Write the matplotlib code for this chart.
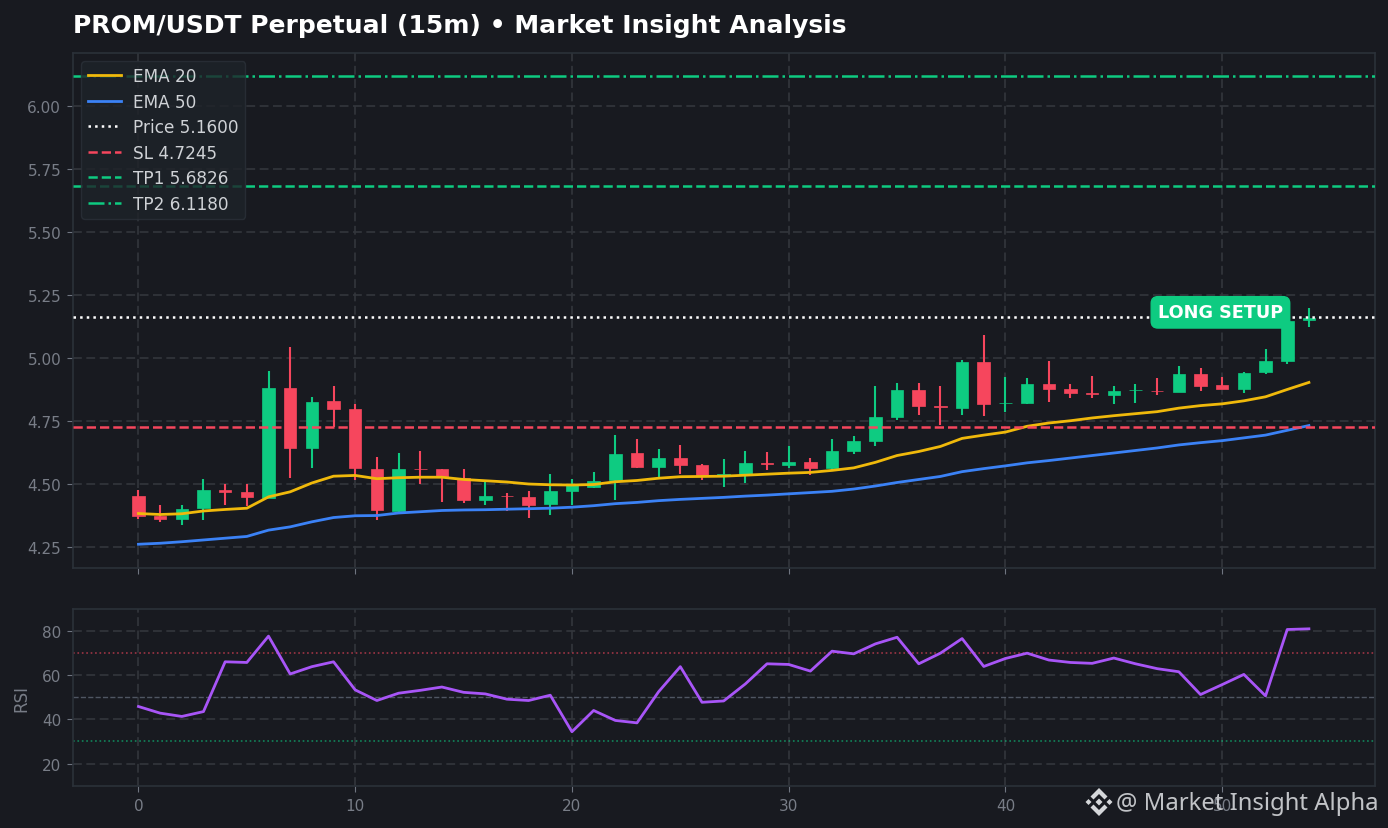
import matplotlib
matplotlib.use('Agg')
import matplotlib.pyplot as plt
from matplotlib.patches import Polygon

# candle data
opens = [4.452, 4.374, 4.361, 4.405, 4.476, 4.468, 4.444, 4.881, 4.643, 4.829, 4.798,
         4.560, 4.393, 4.560, 4.560, 4.524, 4.437, 4.452, 4.448, 4.421, 4.472, 4.488,
         4.516, 4.623, 4.567, 4.603, 4.575, 4.536, 4.536, 4.583, 4.575, 4.587, 4.563,
         4.631, 4.671, 4.766, 4.873, 4.810, 4.802, 4.984, 4.819, 4.821, 4.897, 4.877,
         4.861, 4.853, 4.870, 4.869, 4.865, 4.937, 4.893, 4.877, 4.944, 4.988, 5.151]
closes = [4.374, 4.361, 4.401, 4.476, 4.468, 4.448, 4.881, 4.643, 4.825, 4.798, 4.563,
          4.397, 4.560, 4.557, 4.526, 4.437, 4.452, 4.450, 4.417, 4.472, 4.500, 4.512,
          4.619, 4.567, 4.603, 4.575, 4.536, 4.540, 4.583, 4.579, 4.587, 4.563, 4.631,
          4.671, 4.766, 4.873, 4.810, 4.804, 4.984, 4.817, 4.821, 4.897, 4.877, 4.861,
          4.858, 4.869, 4.873, 4.866, 4.937, 4.889, 4.877, 4.940, 4.988, 5.147, 5.158]
highs = [4.476, 4.417, 4.417, 4.520, 4.500, 4.500, 4.948, 5.044, 4.845, 4.889, 4.817,
         4.607, 4.623, 4.631, 4.560, 4.560, 4.508, 4.464, 4.472, 4.540, 4.520, 4.548,
         4.694, 4.679, 4.639, 4.655, 4.579, 4.599, 4.631, 4.627, 4.651, 4.603, 4.679,
         4.690, 4.889, 4.901, 4.901, 4.889, 4.992, 5.091, 4.925, 4.921, 4.988, 4.897,
         4.929, 4.889, 4.897, 4.921, 4.968, 4.960, 4.925, 4.944, 5.036, 5.147, 5.198]
lows = [4.361, 4.349, 4.337, 4.357, 4.417, 4.413, 4.444, 4.524, 4.563, 4.725, 4.516,
        4.357, 4.385, 4.500, 4.429, 4.425, 4.417, 4.393, 4.365, 4.377, 4.417, 4.484,
        4.437, 4.563, 4.528, 4.540, 4.516, 4.488, 4.504, 4.556, 4.563, 4.536, 4.556,
        4.619, 4.651, 4.754, 4.774, 4.734, 4.774, 4.770, 4.786, 4.817, 4.825, 4.841,
        4.841, 4.817, 4.821, 4.853, 4.865, 4.869, 4.877, 4.861, 4.937, 4.976, 5.123]

ema20 = [4.382, 4.378, 4.381, 4.392, 4.398, 4.403, 4.448, 4.468, 4.503, 4.530, 4.533,
         4.520, 4.524, 4.526, 4.526, 4.517, 4.512, 4.507, 4.499, 4.496, 4.495, 4.497,
         4.508, 4.513, 4.522, 4.528, 4.529, 4.530, 4.534, 4.538, 4.542, 4.545, 4.553,
         4.563, 4.585, 4.612, 4.628, 4.648, 4.680, 4.693, 4.705, 4.728, 4.741, 4.750,
         4.761, 4.770, 4.778, 4.786, 4.800, 4.810, 4.817, 4.829, 4.845, 4.874, 4.902]
ema50 = [4.260, 4.264, 4.270, 4.277, 4.284, 4.291, 4.316, 4.329, 4.349, 4.366, 4.373,
         4.374, 4.384, 4.389, 4.394, 4.396, 4.397, 4.399, 4.401, 4.403, 4.407, 4.413,
         4.421, 4.426, 4.433, 4.438, 4.442, 4.446, 4.451, 4.455, 4.460, 4.465, 4.470,
         4.479, 4.491, 4.505, 4.517, 4.529, 4.548, 4.560, 4.571, 4.583, 4.592, 4.602,
         4.612, 4.622, 4.632, 4.642, 4.654, 4.663, 4.671, 4.682, 4.693, 4.712, 4.731]
rsi = [45.8, 42.8, 41.3, 43.5, 66.0, 65.7, 77.6, 60.5, 63.8, 66.0, 53.3, 48.5, 51.8,
       53.1, 54.6, 52.2, 51.5, 49.1, 48.5, 50.9, 34.4, 44.0, 39.5, 38.4, 52.5, 63.8,
       47.7, 48.3, 56.0, 65.1, 64.8, 61.8, 70.8, 69.6, 74.1, 77.1, 65.1, 69.9, 76.5,
       63.9, 67.5, 69.9, 66.8, 65.7, 65.3, 67.7, 65.1, 62.9, 61.5, 51.2, 55.7, 60.3,
       50.6, 80.6, 80.9]

price = 5.16
sl = 4.7245
tp1 = 5.6826
tp2 = 6.118
price_ticks = [4.25, 4.50, 4.75, 5.00, 5.25, 5.50, 5.75, 6.00]
rsi_ticks = [20, 40, 60, 80]
x_ticks = [0, 10, 20, 30, 40, 50]

BG = '#181a20'
GREEN = '#0ecb81'
RED = '#f6465d'
GRID = '#33363c'
SPINE = '#2b3139'
TICK = '#787d87'

W, H = 1388, 829
fig = plt.figure(figsize=(W / 100, H / 100), dpi=100, facecolor=BG)
ax = fig.add_axes([73 / W, 1 - 568.7 / H, 1302 / W, 515 / H], facecolor=BG)
ax2 = fig.add_axes([73 / W, 1 - 786.7 / H, 1302 / W, 177 / H], facecolor=BG, sharex=ax)

# candles, the thin edge keeps the doji bodies visible
xs = list(range(len(opens)))
for i in xs:
    col = GREEN if closes[i] >= opens[i] else RED
    ax.vlines(i, lows[i], highs[i], color=col, lw=1.5, zorder=2)
    ax.bar(i, abs(closes[i] - opens[i]), bottom=min(opens[i], closes[i]), width=0.58,
           color=col, edgecolor=col, linewidth=0.5, zorder=3)

ax.plot(xs, ema20, color='#f0b90b', lw=2, label='EMA 20', zorder=4)
ax.plot(xs, ema50, color='#3b82f6', lw=2, label='EMA 50', zorder=4)
ax.axhline(price, color='white', ls=':', lw=1.8, label=f'Price {price:.4f}', zorder=4)
ax.axhline(sl, color=RED, ls='--', lw=1.8, label=f'SL {sl:.4f}', zorder=4)
ax.axhline(tp1, color=GREEN, ls='--', lw=1.8, label=f'TP1 {tp1:.4f}', zorder=4)
ax.axhline(tp2, color=GREEN, ls='-.', lw=1.8, label=f'TP2 {tp2:.4f}', zorder=4)

ax.text(49.92, 5.18, 'LONG SETUP', color='white', fontsize=12.7, fontweight='bold',
        ha='center', va='center', zorder=6,
        bbox=dict(boxstyle='round,pad=0.38', facecolor=GREEN, edgecolor=GREEN))

ax.set_xlim(-3.02, 57.05)
ax.set_ylim(4.167, 6.21)
ax.set_yticks(price_ticks)
ax.set_yticklabels([f'{t:.2f}' for t in price_ticks])
ax.set_xticks(x_ticks)
ax.tick_params(labelbottom=False)
ax.set_title('PROM/USDT Perpetual (15m) • Market Insight Analysis', color='white',
             fontsize=18.03, fontweight='bold', loc='left', pad=15)

leg = ax.legend(loc='upper left', fontsize=12.2, facecolor='#1e2329', edgecolor='#2b3139',
                framealpha=0.8, labelcolor='#cfd2d6', labelspacing=0.44, borderpad=0.36,
                handletextpad=0.7)
leg.set_zorder(10)

# rsi panel
ax2.plot(xs, rsi, color='#a855f7', lw=2, zorder=4)
ax2.axhline(70, color=RED, ls=':', lw=1.2, alpha=0.6)
ax2.axhline(50, color='#5e6673', ls='--', lw=1, alpha=0.8)
ax2.axhline(30, color=GREEN, ls=':', lw=1.2, alpha=0.6)
ax2.set_ylim(10, 90)
ax2.set_yticks(rsi_ticks)
ax2.set_xticks(x_ticks)
ax2.set_ylabel('RSI', color=TICK, fontsize=12, labelpad=8.5)

for a in (ax, ax2):
    a.grid(True, color=GRID, ls=(0, (5.3, 2.7)), lw=1.2)
    a.set_axisbelow(True)
    a.tick_params(colors=TICK, labelsize=11, length=4, pad=4.5, color='#6f7580')
    for s in a.spines.values():
        s.set_color(SPINE)
        s.set_linewidth(1.2)

# watermark, logo drawn in pixels from the top left corner of the figure
logo = [
    [(1099, 799.5), (1102.5, 803), (1099, 806.5), (1095.5, 803)],
    [(1088.5, 800), (1091.5, 803), (1088.5, 806), (1085.5, 803)],
    [(1109.5, 800), (1112.5, 803), (1109.5, 806), (1106.5, 803)],
    [(1099, 789), (1107.5, 797.5), (1104.5, 800.5), (1099, 795), (1093.5, 800.5), (1090.5, 797.5)],
    [(1099, 817), (1107.5, 808.5), (1104.5, 805.5), (1099, 811), (1093.5, 805.5), (1090.5, 808.5)],
]
for pts in logo:
    fig.add_artist(Polygon([(x / W, 1 - y / H) for x, y in pts], closed=True,
                           transform=fig.transFigure, facecolor='#d5d7da', edgecolor='none'))
fig.text(1379 / W, 1 - 804 / H, '@ Market Insight Alpha', color='#d5d7da', fontsize=17.2,
         family='Noto Sans', ha='right', va='center', alpha=0.9)

fig.savefig('out.png', dpi=100, facecolor=BG)
